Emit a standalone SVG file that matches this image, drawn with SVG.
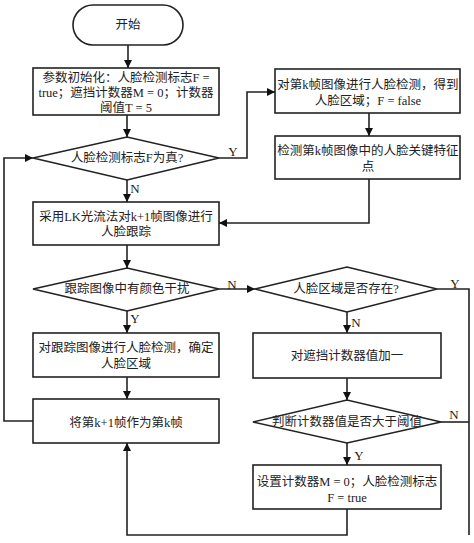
<svg xmlns="http://www.w3.org/2000/svg" width="474" height="543" viewBox="0 0 474 543">
<defs>
<marker id="ah" viewBox="0 0 10 10" refX="10" refY="5" markerWidth="8" markerHeight="8" markerUnits="userSpaceOnUse" orient="auto">
<path d="M0,0 L10,5 L0,10 z" fill="#111"/>
</marker>
<style>
.s{fill:#fff;stroke:#222;stroke-width:1.6}
.c{fill:none;stroke:#222;stroke-width:1.6}
.a{marker-end:url(#ah)}
text{font-family:"Liberation Serif","Noto Sans CJK SC",serif;font-size:12.5px;fill:#222;text-anchor:middle;dominant-baseline:central}
.l{font-size:13px}
</style>
</defs>
<g id="start"><rect class="s" x="73" y="5" width="110" height="40" rx="20" ry="20"/><text x="128" y="25">开始</text></g>
<g id="init"><rect class="s" x="33" y="68" width="186" height="47"/><text x="126" y="78">参数初始化：人脸检测标志F =</text><text x="126" y="93">true；遮挡计数器M = 0；计数器</text><text x="126" y="108">阈值T = 5</text></g>
<g id="d1"><polygon class="s" points="33,158 127,137 219,158 127,180"/><text x="127" y="158">人脸检测标志F为真?</text></g>
<g id="detect"><rect class="s" x="275" y="69" width="185" height="44"/><text x="368" y="85">对第k帧图像进行人脸检测，得到</text><text x="368" y="101">人脸区域；F = false</text></g>
<g id="keypts"><rect class="s" x="275" y="136" width="185" height="43"/><text x="368" y="151">检测第k帧图像中的人脸关键特征</text><text x="368" y="167">点</text></g>
<g id="lk"><rect class="s" x="33" y="202" width="186" height="43"/><text x="126" y="217">采用LK光流法对k+1帧图像进行</text><text x="126" y="232">人脸跟踪</text></g>
<g id="d2"><polygon class="s" points="33,289 127,268 219,289 127,311"/><text x="127" y="289">跟踪图像中有颜色干扰</text></g>
<g id="d3"><polygon class="s" points="255,289 347,267 437,289 347,312"/><text x="346" y="289">人脸区域是否存在?</text></g>
<g id="region"><rect class="s" x="33" y="333" width="186" height="44"/><text x="126" y="348">对跟踪图像进行人脸检测，确定</text><text x="126" y="364">人脸区域</text></g>
<g id="next"><rect class="s" x="33" y="399" width="186" height="44"/><text x="126" y="423">将第k+1帧作为第k帧</text></g>
<g id="inc"><rect class="s" x="253" y="333" width="188" height="45"/><text x="347" y="356">对遮挡计数器值加一</text></g>
<g id="d4"><polygon class="s" points="253,422 347,400 441,422 347,443"/><text x="347" y="422">判断计数器值是否大于阈值</text></g>
<g id="reset"><rect class="s" x="253" y="465" width="188" height="44"/><text x="347" y="482">设置计数器M = 0；人脸检测标志</text><text x="347" y="498">F = true</text></g>
<g id="connectors">
<path class="c a" d="M128,45 V68"/>
<path class="c a" d="M127,115 V137"/>
<path class="c a" d="M219,158 H247 V92 H275"/>
<path class="c a" d="M369,113 V136"/>
<path class="c a" d="M369,179 V223 H219"/>
<path class="c a" d="M127,180 V202"/>
<path class="c a" d="M127,245 V268"/>
<path class="c a" d="M219,289 H255"/>
<path class="c a" d="M127,311 V333"/>
<path class="c a" d="M127,377 V399"/>
<path class="c a" d="M33,421 H4 V158 H33"/>
<path class="c a" d="M347,312 V333"/>
<path class="c a" d="M347,378 V400"/>
<path class="c a" d="M347,443 V465"/>
<path class="c" d="M437,289 H469 V535"/>
<path class="c" d="M441,422 H469"/>
<path class="c a" d="M347,509 V535 H127 V443"/>
<text class="l" x="233" y="151">Y</text>
<text class="l" x="135" y="188">N</text>
<text class="l" x="232" y="284">N</text>
<text class="l" x="455" y="283">Y</text>
<text class="l" x="135" y="318">Y</text>
<text class="l" x="356" y="322">N</text>
<text class="l" x="454" y="414">N</text>
<text class="l" x="359" y="455">Y</text>
</g>
</svg>
